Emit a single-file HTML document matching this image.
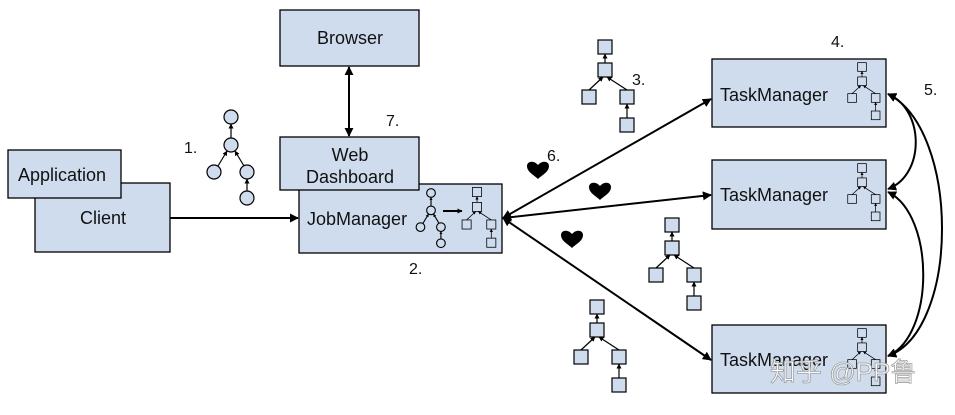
<!DOCTYPE html>
<html><head><meta charset="utf-8"><style>
body{margin:0;background:#fff}
svg text{font-family:"Liberation Sans",Arial,sans-serif;fill:#111}
</style></head><body>
<svg width="955" height="410" viewBox="0 0 955 410" xmlns="http://www.w3.org/2000/svg">
<defs>
<marker id="a" viewBox="0 0 10 10" refX="9" refY="5" markerWidth="9" markerHeight="9" orient="auto-start-reverse" markerUnits="userSpaceOnUse"><path d="M0,0 L10,5 L0,10 z" fill="#000"/></marker>
<marker id="s" viewBox="0 0 10 10" refX="9" refY="5" markerWidth="5" markerHeight="5" orient="auto" markerUnits="userSpaceOnUse"><path d="M0,0 L10,5 L0,10 z" fill="#000"/></marker>
<g id="sq">
<g fill="#cfdcee" stroke="#000" stroke-width="1.2">
<rect x="-7" y="-7" width="14" height="14"/><rect x="-7" y="16" width="14" height="14"/>
<rect x="-23" y="43" width="14" height="14"/><rect x="15" y="43" width="14" height="14"/>
<rect x="15" y="71" width="14" height="14"/></g>
<g stroke="#000" stroke-width="1.2" marker-end="url(#s)">
<line x1="0" y1="16" x2="0" y2="7"/><line x1="-16" y1="43" x2="-2" y2="30"/>
<line x1="22" y1="43" x2="2" y2="30"/><line x1="22" y1="71" x2="22" y2="57"/></g>
</g>
<path id="h" d="M0,6 C-4,2 -11,-1 -11,-7 C-11,-12 -4,-13 0,-8 C4,-13 11,-12 11,-7 C11,-1 4,2 0,6 z" fill="#000"/>
</defs>
<g fill="#cfdcee" stroke="#000" stroke-width="1.3">
<rect x="280" y="10" width="139" height="56"/>
<rect x="299" y="184" width="203" height="69"/>
<rect x="280" y="137" width="139" height="53"/>
<rect x="35" y="183" width="135" height="69"/>
<rect x="8" y="150" width="113" height="48"/>
<rect x="712" y="59" width="174" height="68"/>
<rect x="712" y="160" width="174" height="69"/>
<rect x="712" y="325" width="174" height="68"/>
</g>
<text x="350" y="44" font-size="18" text-anchor="middle">Browser</text>
<text x="350" y="161" font-size="18" text-anchor="middle">Web</text>
<text x="350" y="183" font-size="18" text-anchor="middle">Dashboard</text>
<text x="62" y="181" font-size="18" text-anchor="middle">Application</text>
<text x="103" y="224" font-size="18" text-anchor="middle">Client</text>
<text x="307" y="225" font-size="18">JobManager</text>
<text x="720" y="101" font-size="18">TaskManager</text>
<text x="720" y="201" font-size="18">TaskManager</text>
<text x="720" y="366" font-size="18">TaskManager</text>
<g font-size="16">
<text x="184" y="153">1.</text><text x="409" y="274">2.</text><text x="632" y="85">3.</text>
<text x="831" y="47">4.</text><text x="924" y="95">5.</text><text x="547" y="161">6.</text><text x="386" y="126">7.</text>
</g>
<g fill="#cfdcee" stroke="#000" stroke-width="1.2">
<circle cx="231" cy="117" r="7"/><circle cx="231" cy="145" r="7"/><circle cx="214" cy="172" r="7"/>
<circle cx="247" cy="172" r="7"/><circle cx="247" cy="198" r="7"/></g>
<g stroke="#000" stroke-width="1.2" marker-end="url(#s)">
<line x1="231" y1="138" x2="231" y2="124"/><line x1="218" y1="166" x2="227" y2="151"/>
<line x1="244" y1="166" x2="235" y2="151"/><line x1="247" y1="191" x2="247" y2="179"/></g>
<g transform="translate(431,193) scale(0.62)">
<g fill="#cfdcee" stroke="#000" stroke-width="1.8">
<circle cx="0" cy="0" r="7"/><circle cx="0" cy="28" r="7"/><circle cx="-17" cy="55" r="7"/>
<circle cx="16" cy="55" r="7"/><circle cx="16" cy="81" r="7"/></g>
<g stroke="#000" stroke-width="1.8" marker-end="url(#s)">
<line x1="0" y1="21" x2="0" y2="7"/><line x1="-13" y1="49" x2="-4" y2="34"/>
<line x1="13" y1="49" x2="4" y2="34"/><line x1="16" y1="74" x2="16" y2="62"/></g></g>
<line x1="443" y1="211" x2="462" y2="211" stroke="#000" stroke-width="2" marker-end="url(#s)"/>
<use href="#sq" transform="translate(477,192) scale(0.65)"/>
<use href="#sq" transform="translate(605,47)"/>
<use href="#sq" transform="translate(672,225)"/>
<use href="#sq" transform="translate(597,307)"/>
<use href="#sq" transform="translate(862,67) scale(0.62)"/>
<use href="#sq" transform="translate(862,168) scale(0.62)"/>
<use href="#sq" transform="translate(862,333) scale(0.62)"/>
<g stroke="#000" stroke-width="2" fill="none">
<line x1="170" y1="218" x2="298" y2="218" marker-end="url(#a)"/>
<line x1="349" y1="67" x2="349" y2="136" marker-start="url(#a)" marker-end="url(#a)"/>
<line x1="503" y1="218" x2="711" y2="99" marker-start="url(#a)" marker-end="url(#a)"/>
<line x1="503" y1="218" x2="711" y2="195" marker-start="url(#a)" marker-end="url(#a)"/>
<line x1="503" y1="218" x2="711" y2="360" marker-start="url(#a)" marker-end="url(#a)"/>
<path d="M888,94 C925,110 925,175 888,189" marker-start="url(#a)" marker-end="url(#a)"/>
<path d="M888,192 C935,215 935,335 888,356" marker-start="url(#a)" marker-end="url(#a)"/>
<path d="M888,94 C960,130 960,330 888,356" marker-start="url(#a)" marker-end="url(#a)"/>
</g>
<use href="#h" transform="translate(538,173)"/>
<use href="#h" transform="translate(600,194)"/>
<use href="#h" transform="translate(572,242)"/>
<text x="770" y="381" font-size="26" style="fill:#fff;stroke:#999;stroke-width:0.8;font-family:'Liberation Sans','Noto Sans CJK SC',sans-serif" opacity="0.9">知乎 @PP鲁</text>
</svg>
</body></html>
